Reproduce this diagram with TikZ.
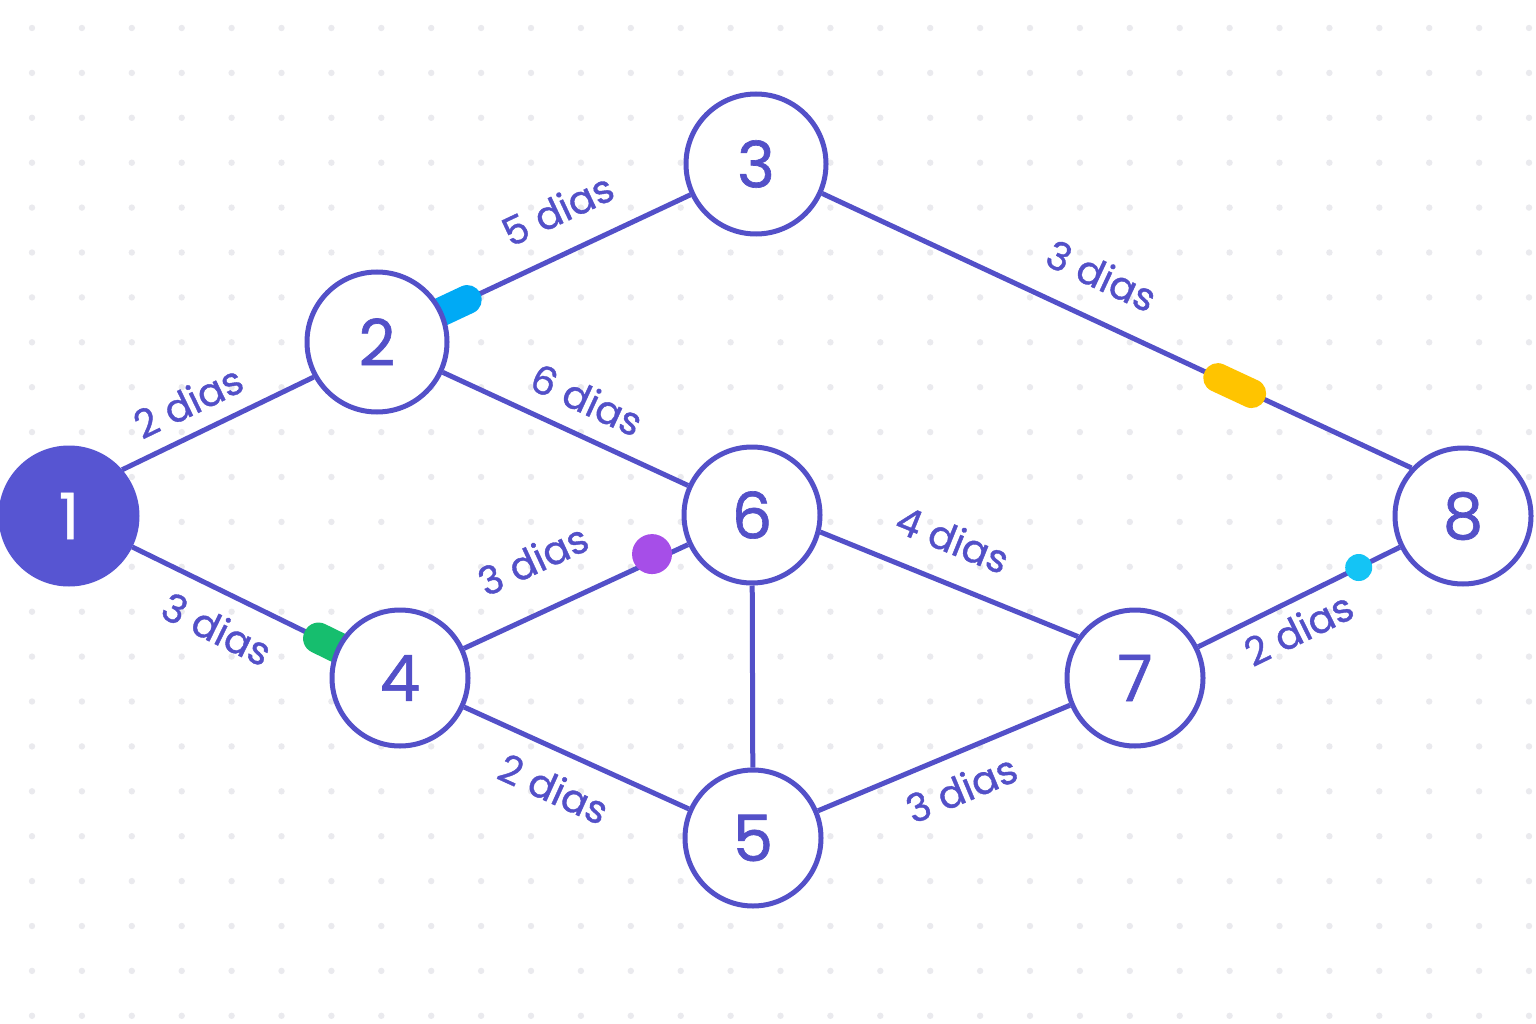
\documentclass[tikz,border=0pt]{standalone}
\usepackage{fontspec}
\setmainfont{Poppins}
\newfontfamily\lblfont{Poppins}[FakeBold=1]
\usetikzlibrary{calc}
\definecolor{ink}{RGB}{83,80,200}
\definecolor{inkfill}{RGB}{87,85,210}
\definecolor{dotc}{RGB}{234,234,238}
\definecolor{pblue}{RGB}{0,170,245}
\definecolor{pyellow}{RGB}{255,196,0}
\definecolor{pgreen}{RGB}{22,190,110}
\definecolor{ppurple}{RGB}{166,78,232}
\definecolor{pcyan}{RGB}{20,196,245}
\pgfdeclarelayer{dots}
\pgfdeclarelayer{edges}
\pgfsetlayers{dots,edges,main}
\tikzset{
  vtx/.style={circle, draw=ink, line width=5pt, fill=white, minimum size=136pt, inner sep=0pt,
    text=ink, font=\lblfont\fontsize{64}{66}\selectfont},
  vtxbig/.style={vtx, minimum size=140pt},
  vtxstart/.style={vtx, fill=inkfill, draw=inkfill, text=white},
  edge/.style={draw=ink, line width=5pt},
  lbl/.style={sloped, inner sep=0pt, text=ink, font=\lblfont\fontsize{39}{41}\selectfont},
  pill/.style={sloped, draw=none, rounded corners=#1, inner sep=0pt},
  dotmark/.style={circle, draw=none, inner sep=0pt}
}
\begin{document}
\begin{tikzpicture}[x=1pt,y=-1pt]
\useasboundingbox (0,0) rectangle (1536,1024);
\begin{pgfonlayer}{dots}
\fill[white] (0,0) rectangle (1536,1024);
\foreach \i in {0,...,30}{
  \foreach \j in {0,...,22}{
    \fill[dotc] ({32+49.9*\i},{28+44.9*\j}) circle (3.2);
  }
}
\end{pgfonlayer}

\node[vtxstart] (n1) at (69,516) {1};
\node[vtxbig] (n2) at (377,342) {2};
\node[vtxbig] (n3) at (756,164) {3};
\node[vtx] (n4) at (400,678) {4};
\node[vtx] (n5) at (753,838) {5};
\node[vtx] (n6) at (752,515) {6};
\node[vtx] (n7) at (1135,678) {7};
\node[vtx] (n8) at (1463,516) {8};

\begin{pgfonlayer}{edges}
\draw[edge] (n1.41) -- (n2.209);
\draw[edge] (n1) -- (n4);
\draw[edge] (n2) -- (n3);
\draw[edge] (n2) -- (n6);
\draw[edge] (n3.336) -- (n8.137);
\draw[edge] (n4) -- (n6);
\draw[edge] (n4) -- (n5);
\draw[edge] (n6) -- (n5);
\draw[edge] (n6.346) -- (n7.144);
\draw[edge] (n5) -- (n7);
\draw[edge] (n7) -- (n8);
% markers
\path (n2.center) -- (n3.center) node[pos=0.203, pill=14pt, fill=pblue, minimum width=58pt, minimum height=29pt] (mb) {};
\path (n3.336) -- (n8.137) node[pos=0.70, pill=14pt, fill=pyellow, minimum width=66pt, minimum height=29pt] (my) {};
\path (n1.center) -- (n4.center) node[pos=0.783, pill=15pt, fill=pgreen, minimum width=52pt, minimum height=31pt] (mg) {};
\path (n4.center) -- (n6.center) node[pos=0.716, dotmark, fill=ppurple, minimum size=40pt, above=-13pt] (mp) {};
\path (n7.center) -- (n8.center) node[pos=0.682, dotmark, fill=pcyan, minimum size=27pt] (mc) {};
\end{pgfonlayer}

% labels
\path (n1.41) -- (n2.209) node[lbl, pos=0.418, above=17.5pt] (l12) {2 dias};
\path (n2.center) -- (n3.center) node[lbl, pos=0.525, above=28pt] (l23) {5 dias};
\path (n3.336) -- (n8.137) node[lbl, pos=0.443, above=28.5pt] (l38) {3 dias};
\path (n2.center) -- (n6.center) node[lbl, pos=0.52, above=20.5pt] (l26) {6 dias};
\path (n4.center) -- (n6.center) node[lbl, pos=0.439, above=36.5pt] (l46) {3 dias};
\path (n6.346) -- (n7.144) node[lbl, pos=0.451, above=28pt] (l67) {4 dias};
\path (n1.center) -- (n4.center) node[lbl, pos=0.495, below=21pt] (l14) {3 dias};
\path (n4.center) -- (n5.center) node[lbl, pos=0.479, below=22pt] (l45) {2 dias};
\path (n5.center) -- (n7.center) node[lbl, pos=0.51, below=19.5pt] (l57) {3 dias};
\path (n7.center) -- (n8.center) node[lbl, pos=0.46, below=13pt] (l78) {2 dias};
\end{tikzpicture}
\end{document}
